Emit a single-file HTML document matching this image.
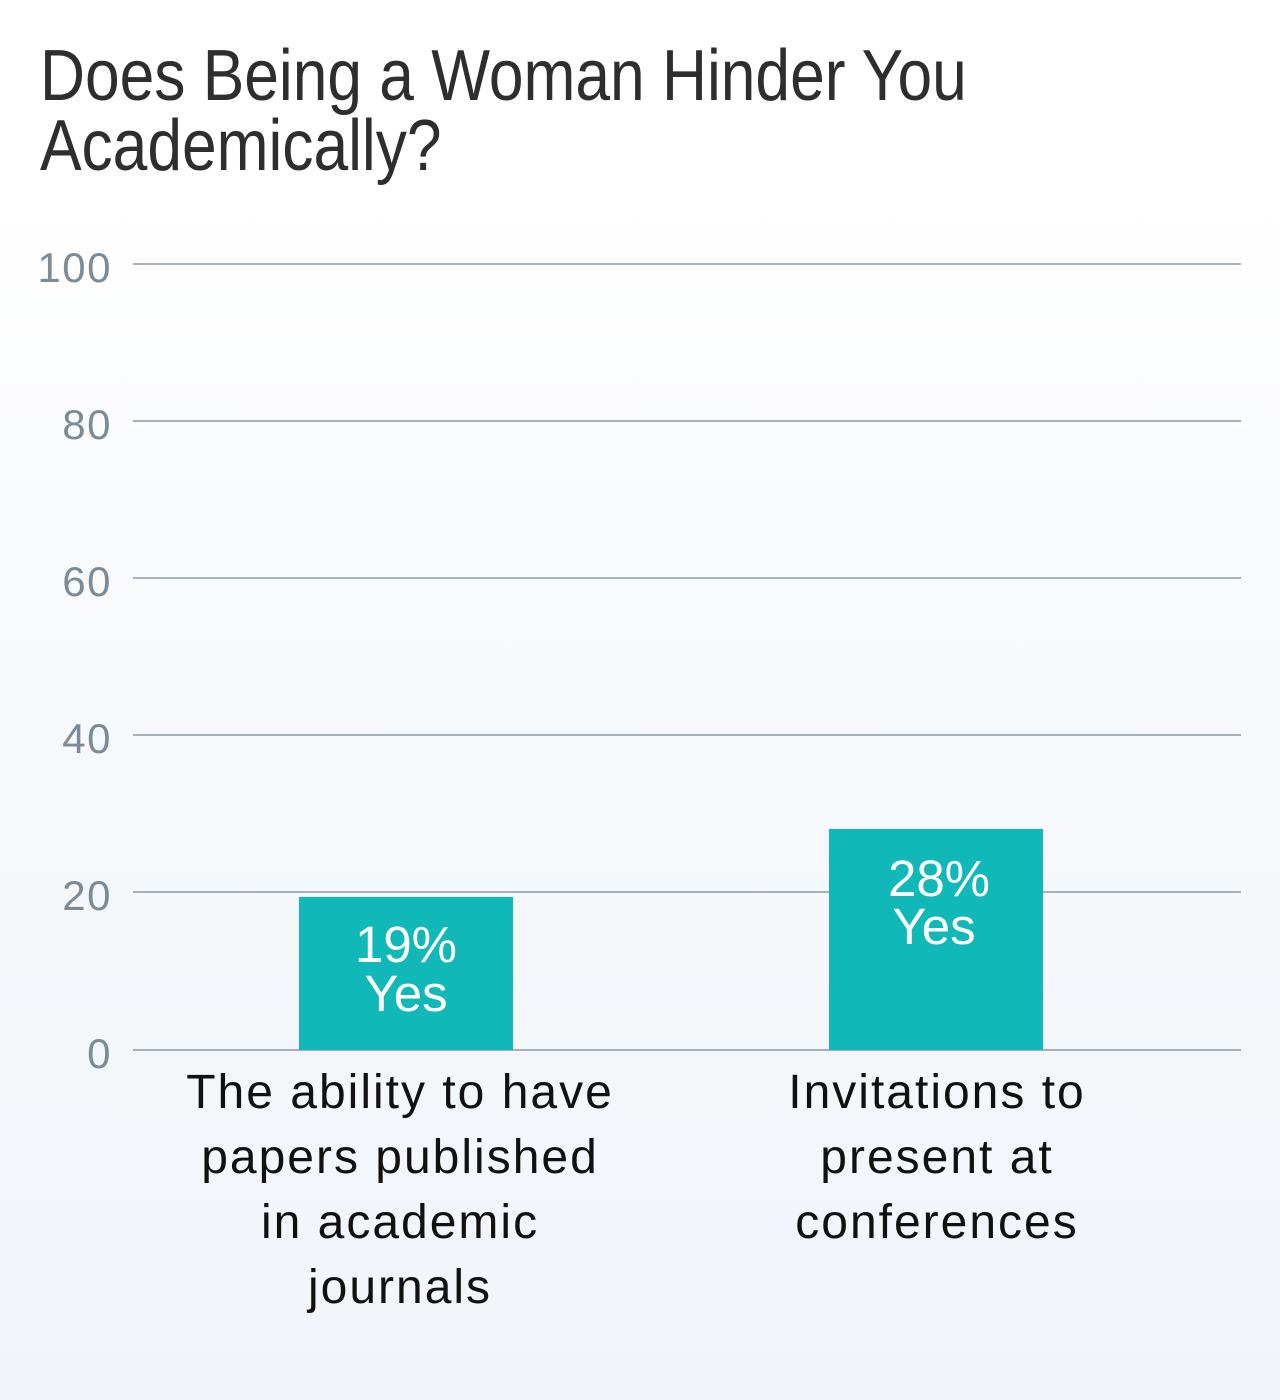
<!DOCTYPE html>
<html><head><meta charset="utf-8"><style>
html,body{margin:0;padding:0;}
body{width:1280px;height:1400px;position:relative;overflow:hidden;background:#fff;font-family:"Liberation Sans",sans-serif;}
.panel{position:absolute;left:0;top:190px;width:1280px;height:1210px;background:linear-gradient(180deg,#ffffff 0%,#f7f9fc 40%,#f1f5f9 100%);}
.title{position:absolute;left:40px;top:41px;font-size:72px;line-height:70px;color:#2e2e2e;transform:scaleX(0.865);transform-origin:left top;white-space:nowrap;}
</style></head><body>
<div class="panel"></div>
<div class="title">Does Being a Woman Hinder You<br>Academically?</div>
<svg width="1280" height="1400" style="position:absolute;left:0;top:0">
<g stroke="#8d9aa5" stroke-width="1.5">
<line x1="133" x2="1241" y1="264" y2="264"/>
<line x1="133" x2="1241" y1="421" y2="421"/>
<line x1="133" x2="1241" y1="578" y2="578"/>
<line x1="133" x2="1241" y1="735" y2="735"/>
<line x1="133" x2="1241" y1="892" y2="892"/>
<line x1="133" x2="1241" y1="1050" y2="1050"/>
</g>
<g fill="#7d8b97" font-size="42" letter-spacing="1.5" text-anchor="end" font-family="Liberation Sans, sans-serif">
<text x="112" y="282">100</text>
<text x="112" y="439">80</text>
<text x="112" y="596">60</text>
<text x="112" y="753">40</text>
<text x="112" y="910">20</text>
<text x="112" y="1068">0</text>
</g>
<rect x="299" y="897" width="214" height="153" fill="#10b8b8"/>
<rect x="829" y="829" width="214" height="221" fill="#10b8b8"/>
<g fill="#fff" font-size="51" text-anchor="middle" font-family="Liberation Sans, sans-serif">
<text x="406" y="962">19%</text>
<text x="406" y="1011">Yes</text>
<text x="939" y="896">28%</text>
<text x="934" y="944">Yes</text>
</g>
<g fill="#111" font-size="48" letter-spacing="2" text-anchor="middle" font-family="Liberation Sans, sans-serif">
<text x="400" y="1108">The ability to have</text>
<text x="400" y="1173">papers published</text>
<text x="400" y="1238">in academic</text>
<text x="400" y="1303">journals</text>
<text x="937" y="1108">Invitations to</text>
<text x="937" y="1173">present at</text>
<text x="937" y="1238">conferences</text>
</g>
</svg>
</body></html>
